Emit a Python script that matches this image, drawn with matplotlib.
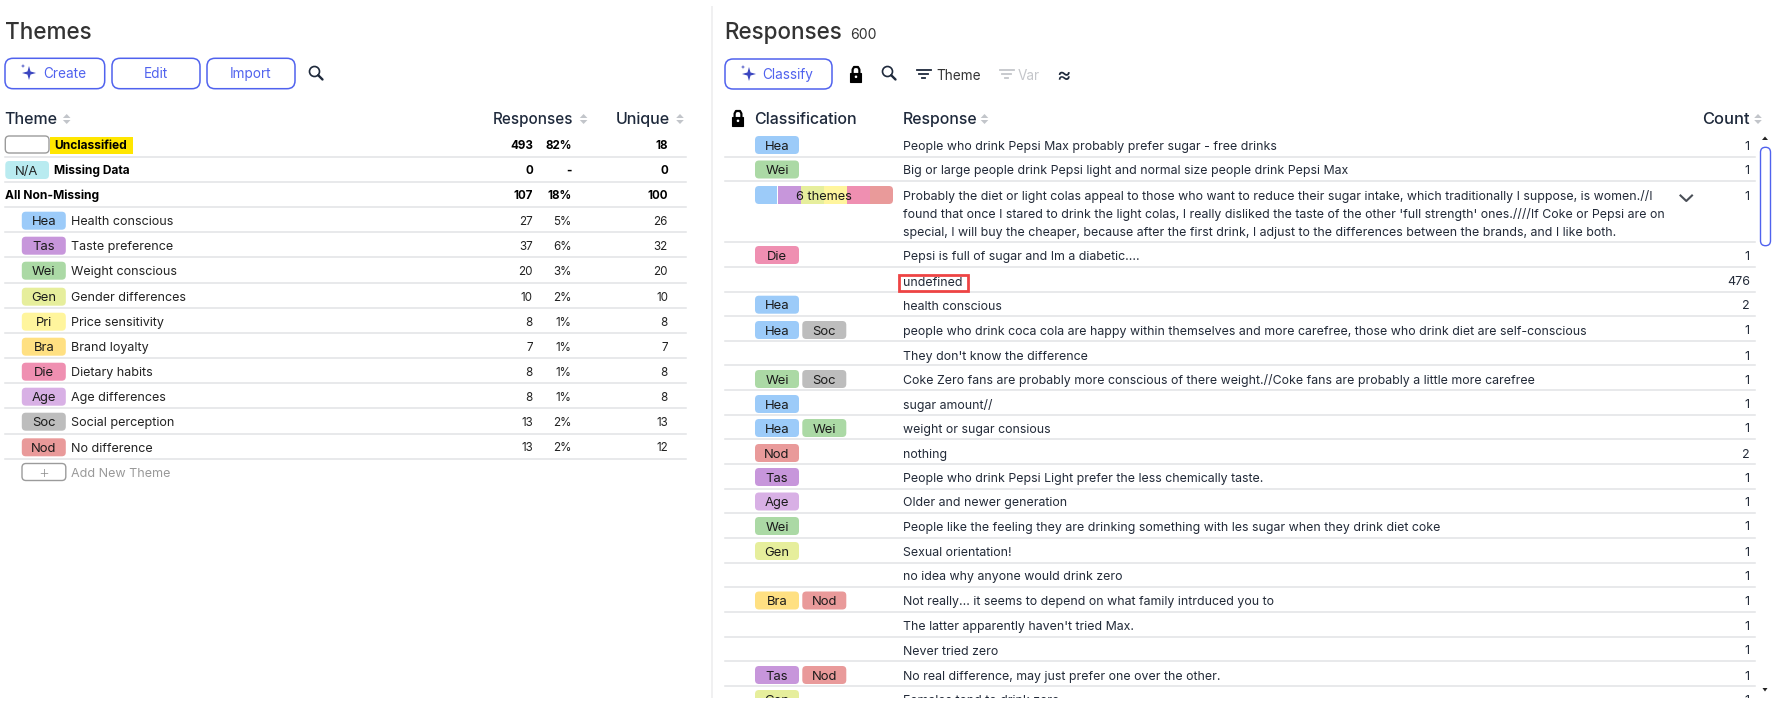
import matplotlib
matplotlib.use("Agg")
import matplotlib.pyplot as plt
from matplotlib.patches import FancyBboxPatch, Rectangle, Circle, Polygon

# ---------- data ----------
theme_codes = ["Hea", "Tas", "Wei", "Gen", "Pri", "Bra", "Die", "Age", "Soc", "Nod"]
theme_names = ["Health conscious", "Taste preference", "Weight conscious", "Gender differences",
               "Price sensitivity", "Brand loyalty", "Dietary habits", "Age differences",
               "Social perception", "No difference"]
theme_responses = [27, 37, 20, 10, 8, 7, 8, 8, 13, 13]
theme_pct = ["5%", "6%", "3%", "2%", "1%", "1%", "1%", "1%", "2%", "2%"]
theme_unique = [26, 32, 20, 10, 8, 7, 8, 8, 13, 12]
summary_names = ["Unclassified", "Missing Data", "All Non-Missing"]
summary_responses = [493, 0, 107]
summary_pct = ["82%", "-", "18%"]
summary_unique = [18, 0, 100]

resp_chips = [["Hea"], ["Wei"], ["Hea", "Tas", "Gen", "Pri", "Die", "Nod"], ["Die"], [], ["Hea"],
              ["Hea", "Soc"], [], ["Wei", "Soc"], ["Hea"], ["Hea", "Wei"], ["Nod"], ["Tas"], ["Age"],
              ["Wei"], ["Gen"], [], ["Bra", "Nod"], [], [], ["Tas", "Nod"], ["Gen"]]
resp_text = [
    ["People who drink Pepsi Max probably prefer sugar - free drinks"],
    ["Big or large people drink Pepsi light and normal size people drink Pepsi Max"],
    ["Probably the diet or light colas appeal to those who want to reduce their sugar intake, which traditionally I suppose, is women.//I",
     "found that once I stared to drink the light colas, I really disliked the taste of the other 'full strength' ones.////If Coke or Pepsi are on",
     "special, I will buy the cheaper, because after the first drink, I adjust to the differences between the brands, and I like both."],
    ["Pepsi is full of sugar and Im a diabetic...."],
    ["undefined"],
    ["health conscious"],
    ["people who drink coca cola are happy within themselves and more carefree, those who drink diet are self-conscious"],
    ["They don't know the difference"],
    ["Coke Zero fans are probably more conscious of there weight.//Coke fans are probably a little more carefree"],
    ["sugar amount//"],
    ["weight or sugar consious"],
    ["nothing"],
    ["People who drink Pepsi Light prefer the less chemically taste."],
    ["Older and newer generation"],
    ["People like the feeling they are drinking something with les sugar when they drink diet coke"],
    ["Sexual orientation!"],
    ["no idea why anyone would drink zero"],
    ["Not really... it seems to depend on what family intrduced you to"],
    ["The latter apparently haven't tried Max."],
    ["Never tried zero"],
    ["No real difference, may just prefer one over the other."],
    ["Females tend to drink zero"],
]
resp_count = [1, 1, 1, 1, 476, 2, 1, 1, 1, 1, 1, 2, 1, 1, 1, 1, 1, 1, 1, 1, 1, 1]

# ---------- styles / layout ----------
chip_col = dict(Hea="#9CCBF9", Tas="#C796DB", Wei="#ABD9A5", Gen="#E6EE9C", Pri="#FFF59D",
                Bra="#FFE082", Die="#EF8FB1", Age="#D8B0E5", Soc="#BDBDBD", Nod="#E99A9A")
FONT = "Inter"
DARK = "#1e293b"
BLUE = "#5062ee"
ICON = "#3b46c0"
LINE = "#e2e3e5"
plt.rcParams["font.family"] = [FONT, "DejaVu Sans"]

fig = plt.figure(figsize=(17.74, 7.07), dpi=100, facecolor="white")
ax = fig.add_axes([0, 0, 1, 1])
ax.set_xlim(0, 1774); ax.set_ylim(707, 0); ax.axis("off")


def T(x, y, s, size=13, color="black", ha="left", weight="normal", clip=None):
    t = ax.text(x, y + size * 0.36, s, fontsize=size * 0.72, color=color, ha=ha, va="baseline",
                fontweight=weight, zorder=5)
    if clip is not None:
        t.set_clip_on(True)
        t.set_clip_path(clip)
    return t


def rbox(x0, y0, x1, y1, fc="none", ec="none", lw=0, r=4, clip=None, z=2):
    p = FancyBboxPatch((x0 + r, y0 + r), x1 - x0 - 2 * r, y1 - y0 - 2 * r,
                       boxstyle=f"round,pad={r},rounding_size={r}", fc=fc, ec=ec, lw=lw, zorder=z)
    ax.add_patch(p)
    if clip is not None:
        p.set_clip_path(clip)
    return p


def sort_icon(x, y, c="#c2c5ca"):
    ax.add_patch(Polygon([(x - 3.8, y - 1), (x + 3.8, y - 1), (x, y - 5)], fc=c, ec="none", zorder=4))
    ax.add_patch(Polygon([(x - 3.8, y + 1), (x + 3.8, y + 1), (x, y + 5)], fc=c, ec="none", zorder=4))


def search_icon(x, y, c="#1e293b"):
    ax.add_patch(Circle((x - 1.5, y - 1.5), 5.0, fc="none", ec=c, lw=1.2, zorder=4))
    ax.plot([x + 2.2, x + 6.5], [y + 2.2, y + 6.5], color=c, lw=1.7, zorder=4, solid_capstyle="round")


def lock_icon(x, y, c="black"):
    ax.add_patch(Rectangle((x - 5.5, y - 1.5), 11, 9, fc=c, ec=c, lw=0.8, zorder=4))
    ax.plot([x - 3.4, x - 3.4, x - 2, x + 2, x + 3.4, x + 3.4],
            [y - 1, y - 4.5, y - 7, y - 7, y - 4.5, y - 1], color=c, lw=1.6, zorder=4)
    ax.add_patch(Circle((x, y + 2.8), 1.3, fc="white", ec="none", zorder=5))


def sparkle(x, y, c=ICON):
    def star(cx, cy, r):
        k = r * 0.22
        ax.add_patch(Polygon([(cx, cy - r), (cx + k, cy - k), (cx + r, cy), (cx + k, cy + k),
                              (cx, cy + r), (cx - k, cy + k), (cx - r, cy), (cx - k, cy - k)],
                             fc=c, ec="none", zorder=4))
    star(x + 1, y + 1, 7)
    star(x - 5, y - 6, 2.2)


def filter_icon(x, y, c):
    for dy, w in zip((-4, 0, 4), (7, 4.5, 1.5)):
        ax.plot([x - w, x + w], [y + dy, y + dy], color=c, lw=1.3, zorder=4)


def button(x0, x1, y0, y1, label, tx, ha="center"):
    rbox(x0, y0, x1, y1, fc="white", ec=BLUE, lw=1.1, r=8)
    T(tx, (y0 + y1) / 2, label, size=13.6, color=BLUE, ha=ha)


def chip(x0, x1, yc, code, size=13):
    rbox(x0, yc - 9, x1, yc + 9, fc=chip_col[code], r=4)
    T((x0 + x1) / 2, yc, code, size=size, color="#1a1a1a", ha="center")


# ---------- divider ----------
ax.add_patch(Rectangle((710.7, 6), 2, 692, fc="#f0f0f1", ec="none", zorder=1))

# ---------- left panel ----------
T(5, 31, "Themes", size=22.5, color="#333333", weight="medium")
button(5, 104.7, 58.3, 88.7, "Create", 43.3, ha="left")
sparkle(28, 72)
button(112, 200, 58.3, 88.7, "Edit", 156)
button(207, 295, 58.3, 88.7, "Import", 250.5)
search_icon(316, 73)

T(4.5, 118.5, "Theme", size=16, color=DARK, weight="medium")
sort_icon(66.7, 119)
T(573.5, 118.5, "Responses", size=15.2, color=DARK, ha="right", weight="medium")
sort_icon(583.6, 119)
T(669.6, 118.5, "Unique", size=16, color=DARK, ha="right", weight="medium")
sort_icon(680, 119)

left_seps = [157.3, 182.3, 207.3, 232.3, 257.3, 283.3, 308.3, 333.3, 358.3, 383.3, 408.3, 434.3, 459.3]
left_rows = [145, 170, 195, 220.7, 245.7, 270.7, 296.7, 321.7, 346.7, 371.7, 396.7, 421.7, 447.3]
for ys in left_seps:
    ax.plot([5, 686.5], [ys, ys], color=LINE, lw=1.1, zorder=1)

# summary rows
rbox(5.3, 136, 49, 153, fc="white", ec="#9b9b9b", lw=1.0, r=4)
ax.add_patch(Rectangle((50, 137), 83, 17, fc="#FFE600", ec="none", zorder=2))
rbox(5.3, 161, 49, 179, fc="#B9EBF0", r=4)
T(27, 170.5, "N/A", color="#222222", ha="center")
for i, nm in enumerate(summary_names):
    y = left_rows[i]
    T(5 if i == 2 else 54.5, y, nm, size=12, weight="bold")
    T(532.8, y, str(summary_responses[i]), size=11.6, weight="bold", ha="right")
    T(571.4, y, summary_pct[i], size=11.6, weight="bold", ha="right")
    T(668, y, str(summary_unique[i]), size=11.6, weight="bold", ha="right")

# theme rows
for i, code in enumerate(theme_codes):
    y = left_rows[i + 3]
    chip(21.8, 65.8, y, code)
    T(71.5, y, theme_names[i], size=12.55, color="#222222")
    T(532.8, y, str(theme_responses[i]), size=11.6, color="#222222", ha="right")
    T(571.4, y, theme_pct[i], size=11.6, color="#222222", ha="right")
    T(668, y, str(theme_unique[i]), size=11.6, color="#222222", ha="right")

rbox(22, 463.5, 65.8, 480.5, fc="white", ec="#9b9b9b", lw=1.0, r=4)
T(44, 472, "+", size=17, color="#8c8c8c", ha="center", weight="light")
T(71.5, 472.7, "Add New Theme", size=12.55, color="#999999")

# ---------- right panel ----------
T(724.5, 31, "Responses", size=22.5, color="#333333", weight="medium")
T(850.5, 33.5, "600", size=14, color="#333333")
button(725, 832, 59, 89, "Classify", 762, ha="left")
sparkle(748, 73)
lock_icon(856, 74)
search_icon(889, 73)
filter_icon(924, 74, "#1e293b")
T(936, 74.7, "Theme", size=13.6, color="#333333")
filter_icon(1007, 74, "#c4c6ca")
T(1018, 74.7, "Var", size=13.6, color="#c4c6ca")
T(1064, 74.5, "\u2248", size=22, color="#1e293b", ha="center")

lock_icon(738, 118)
T(754, 118.5, "Classification", size=16, color=DARK, weight="medium")
T(903, 118.5, "Response", size=15.8, color=DARK, weight="medium")
sort_icon(984.5, 119)
T(1750, 118.5, "Count", size=16.5, color=DARK, ha="right", weight="medium")
sort_icon(1758, 119)

right_seps = [157.3, 181.3, 242.3, 267.3, 292.3, 316.3, 341.3, 365.3, 390.3, 415.3, 439.3, 464.3,
              489.3, 513.3, 538.3, 563.3, 587.3, 612.3, 637.3, 661.3, 686.3]
right_rows = [145, 169.5, 195, 255, 280.7, 304.7, 330, 355, 379, 404, 428, 453, 477, 501.5, 526, 551,
              575.5, 600.5, 625.5, 650, 675, 699]
for ys in right_seps:
    ax.plot([725, 1755], [ys, ys], color=LINE, lw=1.1, zorder=1)

clipper = Rectangle((0, 0), 1774, 698, transform=ax.transData)
for i, (codes, lines) in enumerate(zip(resp_chips, resp_text)):
    y = right_rows[i]
    if len(codes) > 2:
        x0, seg = 755, 23.0
        outline = rbox(x0, y - 9, x0 + seg * len(codes), y + 9, fc="white", r=4)
        for j, c in enumerate(codes):
            r = Rectangle((x0 + j * seg + (0.5 if j else 0), y - 9), seg - 0.5, 18, fc=chip_col[c], ec="none", zorder=3)
            ax.add_patch(r)
            r.set_clip_path(outline)
        T(x0 + seg * len(codes) / 2, y, f"{len(codes)} themes", size=12.8, color="#1a1a1a", ha="center")
    else:
        for j, c in enumerate(codes):
            x0 = 755 + j * 47.3
            rbox(x0, y - 9, x0 + 44, y + 9, fc=chip_col[c], r=4, clip=clipper)
            T(x0 + 22, y, c, size=13, color="#1a1a1a", ha="center", clip=clipper)
    for k, ln in enumerate(lines):
        T(903.5, y + 0.5 + k * 17.9, ln, size=12.36, color="#222a38", clip=clipper)
    T(1750, y, str(resp_count[i]), size=12.5, color="#222a38", ha="right", clip=clipper)

# red highlight
ax.add_patch(Rectangle((899, 274.5), 69, 16, fc="none", ec="#ee4444", lw=2, zorder=6))
# chevron
ax.plot([1680.5, 1686.3, 1692], [195.5, 201, 195.5], color="#4a4f57", lw=1.5, zorder=4)
# scrollbar
rbox(1760.5, 147.3, 1770.5, 245.7, fc="white", ec=BLUE, lw=1.0, r=5)
ax.add_patch(Polygon([(1762, 140), (1768, 140), (1765, 136.5)], fc="#222222", ec="none", zorder=4))
ax.add_patch(Polygon([(1762.5, 688), (1767.5, 688), (1765, 691.5)], fc="#222222", ec="none", zorder=4))

fig.savefig("out.png", dpi=100, facecolor="white")
